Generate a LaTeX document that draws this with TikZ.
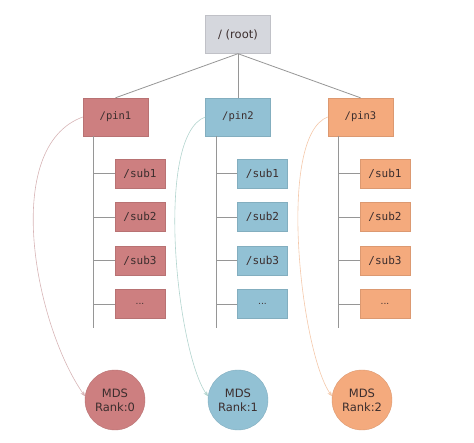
\documentclass[tikz,border=0pt]{standalone}
\usepackage{fontspec}
\setmainfont{DejaVu Sans}
\setmonofont{DejaVu Sans Mono}
\usetikzlibrary{arrows.meta,positioning}
\definecolor{pinred}{RGB}{205,127,128}
\definecolor{pinblue}{RGB}{146,193,212}
\definecolor{pinorange}{RGB}{244,170,125}
\definecolor{rootgray}{RGB}{213,215,221}
\definecolor{treeline}{RGB}{150,150,150}
\definecolor{labeltext}{RGB}{60,46,46}
\definecolor{linkred}{RGB}{215,180,182}
\definecolor{linkblue}{RGB}{178,212,206}
\definecolor{linkorange}{RGB}{244,200,170}

\begin{document}
\begin{tikzpicture}[
        x=1pt, y=1pt,
        dirbox/.style={draw=#1!90!black, fill=#1, minimum width=65pt, minimum height=38pt, inner sep=0pt, text=labeltext, font=\ttfamily\fontsize{10.5}{12}\selectfont},
        subbox/.style={dirbox=#1, minimum width=50pt, minimum height=29pt, font=\ttfamily\fontsize{11}{13}\selectfont},
        mds/.style={circle, draw=#1!90!black, fill=#1, minimum size=60pt, inner sep=0pt, align=center, text=labeltext, font=\fontsize{11.5}{14}\selectfont},
        tree/.style={treeline, line width=0.8pt},
        link/.style={draw=#1, line width=0.6pt, -{Stealth[length=5pt, width=4pt]}}
    ]
        \useasboundingbox (0,0) rectangle (474,443);

        % Root
        \node[dirbox=rootgray, font=\fontsize{11.5}{14}\selectfont] (root) at (238,408.5) {/ (root)};

        % Pins with their sub directories
        \foreach \i/\x/\c in {1/115.5/pinred, 2/238/pinblue, 3/360.5/pinorange} {
            \node[dirbox=\c] (pin\i) at (\x,326) {/pin\i};
            \draw[tree] (root.south) -- (pin\i.north);

            % trunk
            \coordinate (top\i) at ([xshift=11pt]pin\i.south west);
            \coordinate (bot\i) at ([yshift=-192pt]top\i);
            \draw[tree] (top\i) -- (bot\i);

            \foreach \j/\t in {1/{/sub1}, 2/{/sub2}, 3/{/sub3}, 4/{\rmfamily\fontsize{9}{11}\selectfont...}} {
                \node[subbox=\c] (p\i s\j) at (\x+24.5, 313-43.5*\j) {\t};
                \draw[tree] (p\i s\j.west) -- (p\i s\j.west -| top\i);
            }
        }

        % MDS ranks
        \node[mds=pinred] (mds0) at (115,43) {MDS\\Rank:0};
        \node[mds=pinblue] (mds1) at (238,43) {MDS\\Rank:1};
        \node[mds=pinorange] (mds2) at (362,43) {MDS\\Rank:2};

        % Links
        \draw[link=linkred] (pin1.west) to[out=200, in=125, looseness=0.8] (mds0.173);
        \draw[link=linkblue] (pin2.west) to[out=200, in=125, looseness=0.5] (mds1.173);
        \draw[link=linkorange] (pin3.west) to[out=200, in=125, looseness=0.5] (mds2.173);

    \end{tikzpicture}
\end{document}
